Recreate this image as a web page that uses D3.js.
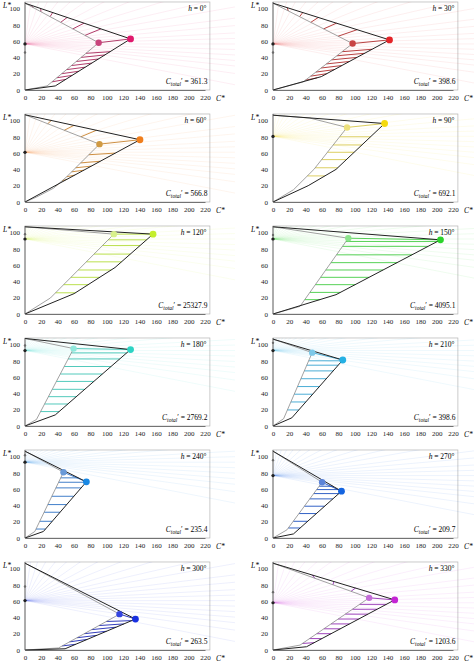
<!DOCTYPE html>
<html>
<head>
<meta charset="utf-8">
<script src="https://cdn.jsdelivr.net/npm/d3@7"></script>
<style>
  body { margin: 0; background: #fff; }
  svg text { font-family: "Liberation Serif", "DejaVu Serif", serif; }
</style>
</head>
<body>
<svg id="chart" width="474" height="662"></svg>
<script>
// hue angle of each panel and the value written in it
var hues = [0, 30, 60, 90, 120, 150, 180, 210, 240, 270, 300, 330];
var costs = ["361.3", "398.6", "566.8", "692.1", "25327.9", "4095.1", "2769.2", "398.6", "235.4", "209.7", "263.5", "1203.6"];

// gamut boundaries [C*, L*]  (upper: white point -> cusp, lower: black point -> cusp)
var outerUpper = [
  [[0,106.5],[129,62.7]],
  [[0,106.5],[142.4,61.5]],
  [[0,107],[140.5,76.4]],
  [[0,106.5],[136.4,96.3]],
  [[0,107],[156.5,98]],
  [[0,107],[204.7,91]],
  [[0,107.4],[129,93.8]],
  [[0,106.6],[85.3,81]],
  [[0,106.5],[75,68.9]],
  [[0,106.5],[83.7,57.4]],
  [[0,106.5],[135,38]],
  [[0,106.5],[148.8,61.5]]
];
var outerLower = [
  [[0,0],[37,5],[129,62.7]],
  [[0,0],[59,16.4],[142.4,61.5]],
  [[0,0],[70,38],[140.5,76.4]],
  [[0,0],[43,20],[77,40],[136.4,96.3]],
  [[0,0],[60,25],[110,57],[156.5,98]],
  [[0,0],[77,23.7],[204.7,91]],
  [[0,0],[37,13.6],[129,93.8]],
  [[0,0],[23,10],[85.3,81]],
  [[0,0],[22.5,8],[75,68.9]],
  [[0,0],[25,5],[83.7,57.4]],
  [[0,0],[49,1.5],[135,38]],
  [[0,0],[41,4],[148.8,61.5]]
];
var innerUpper = [
  [[0,106.5],[90,58]],
  [[0,106.5],[97.3,57]],
  [[0,107],[91,71]],
  [[0,106.5],[45,103],[90.5,91.5]],
  [[0,107],[108.6,98]],
  [[0,107],[92,93]],
  [[0,107.4],[59.4,95]],
  [[0,106.6],[47.9,90]],
  [[0,106.5],[47,80.7]],
  [[0,106.5],[60,68.4]],
  [[0,106.5],[115.5,44]],
  [[0,106.5],[117.5,64]]
];
var innerLower = [
  [[0,0],[27,5],[90,58]],
  [[0,0],[37,10],[97.3,57]],
  [[0,0],[14,6],[35,17],[51,31],[91,71]],
  [[0,0],[25,15],[50,40],[90.5,91.5]],
  [[0,0],[31,19.6],[108.6,98]],
  [[0,0],[33,9.4],[92,93]],
  [[0,0],[14,8],[59.4,95]],
  [[0,0],[13,9],[47.9,90]],
  [[0,0],[12,8],[47,80.7]],
  [[0,0],[17,10],[60,68.4]],
  [[0,0],[41,2.5],[115.5,44]],
  [[0,0],[33,6],[117.5,64]]
];

// mapping lines: [L* on inner boundary, L* on outer boundary]
var hatches = [
  [[10,13],[15,18],[20,23],[25,28],[30,33],[35,38],[40,43],[45,47],[58,62.7],[67,75],[75,82],[83,89],[90,95],[96,100],[101,104]],
  [[12,15],[17,20],[22,25],[27,30],[32,35],[37,40],[42,45],[47,50],[57,61.5],[66,74],[75,82],[83,89],[90,95],[97,101]],
  [[20,22],[26,28],[31,33],[37,39],[42,44],[48,50],[58,60],[71,76.4],[80,88],[88,94],[96,100]],
  [[32,32],[42,42],[52,52],[61,61],[70,70],[80,80],[91.5,96.3]],
  [[26,26],[36,36],[45,45],[54,54],[64,64],[73.5,73.5],[84,84],[91,91],[98,98]],
  [[17.6,17.6],[26.5,26.5],[36,36],[45,45],[54,54],[63,63],[72.6,72.6],[83,83],[89,89],[93,91]],
  [[17.7,17.7],[27,27],[36,36],[45,45],[54.7,54.7],[63.8,63.8],[73,73],[82.3,82.3],[89.7,89.7],[95,93.8]],
  [[19.7,19.7],[29.5,29.5],[39,39],[48.4,48.4],[58,58],[67.6,67.6],[74.6,74.6],[80,80],[90,81]],
  [[11,11],[20.5,20.5],[31.6,31.6],[41,41],[51.2,51.2],[61.5,61.5],[68.4,68.4],[73.8,73.8],[80.7,68.9]],
  [[12.3,12.3],[20.5,20.5],[30,30],[39,39],[48,48],[54.5,54.5],[59.4,59.4],[63.5,63.5],[68.4,57.4]],
  [[5,7],[10,13],[15,18],[20,23],[25,28],[30,32],[35,36],[44,38]],
  [[8,9],[14,14],[20,20],[26,26],[32,32],[38,38],[44,44],[50,50],[56,56],[64,61.5],[72,76],[80,84],[88,92]]
];

// points marked on the L* axis
var focalL = [56.5, 56.5, 61, 80.5, 92, 92, 92.6, 92.6, 93, 76.6, 60.6, 58];
var secondL = [46, 46, null, null, 98, 97, 98.8, 102, 101.6, 95.5, 78, 71];

// fan of guide lines through the focal point, angles in degrees
var fanAngles = [-11, -8, -6, -4.5, -3, -1.5, 0, 1.5, 3, 5, 7, 10, 13, 17, 22, 28, 35, 43, 52, 62, 72, 82];

var outerColors = ["#e0186c", "#e42428", "#f07e1c", "#f4da10", "#c4ee2c", "#2cd42c", "#2cd4c4", "#24b0e4", "#1888e4", "#1464e0", "#1830e0", "#c424d4"];
var innerColors = ["#c8447c", "#c84444", "#d09a44", "#ece07c", "#d8f08c", "#8ce48c", "#90e8dc", "#7cc8e8", "#6a9ad8", "#5c84d8", "#3444e0", "#c46cd8"];
var hatchColors = ["#a8285a", "#b02c2c", "#c8822c", "#d8c850", "#b4dc3c", "#44cc44", "#40c4b4", "#38a4d0", "#2c70c4", "#1c50c0", "#1c28b4", "#9430b4"];

var xTicks = [0, 20, 40, 60, 80, 100, 120, 140, 160, 180, 200, 220];
var yTicks = [0, 20, 40, 60, 80, 100];

var svg = d3.select("#chart");

hues.forEach(function(h, i) {
  var col = i % 2, row = Math.floor(i / 2);
  var x0 = col == 0 ? 25 : 273;
  var yb = 90 + row * 112;
  var x = d3.scaleLinear().domain([0, 220]).range([x0, x0 + 180]);
  var y = d3.scaleLinear().domain([0, 100]).range([yb, yb - 81.5]);
  var g = svg.append("g");

  // clip for the guide fan
  var clipId = "clip" + i;
  g.append("clipPath").attr("id", clipId).append("rect")
    .attr("x", x(0)).attr("y", y(108))
    .attr("width", col == 0 ? 210 : 205).attr("height", y(0) - y(108));

  // frame
  g.append("rect").attr("x", x(0)).attr("y", y(108))
    .attr("width", x(226) - x(0)).attr("height", y(0) - y(108))
    .attr("fill", "none").attr("stroke", "#b4b4b4").attr("stroke-width", 0.7);

  // fan of guide lines
  var fan = g.append("g").attr("clip-path", "url(#" + clipId + ")");
  fanAngles.forEach(function(a) {
    var r = a * Math.PI / 180;
    fan.append("line")
      .attr("x1", x(0)).attr("y1", y(focalL[i]))
      .attr("x2", x(0) + 400 * Math.cos(r)).attr("y2", y(focalL[i]) - 400 * Math.sin(r))
      .attr("stroke", outerColors[i]).attr("stroke-opacity", 0.13).attr("stroke-width", 0.6);
  });

  // right edge of each gamut as a function of L*
  function edge(upper, lower) {
    var up = d3.scaleLinear().domain(upper.map(function(p) { return p[1]; })).range(upper.map(function(p) { return p[0]; }));
    var lo = d3.scaleLinear().domain(lower.map(function(p) { return p[1]; })).range(lower.map(function(p) { return p[0]; }));
    var cuspL = lower[lower.length - 1][1];
    return function(L) { return L > cuspL ? up(L) : lo(L); };
  }
  var outC = edge(outerUpper[i], outerLower[i]);
  var inC = edge(innerUpper[i], innerLower[i]);

  // mapping lines between the two gamuts
  hatches[i].forEach(function(hh) {
    g.append("line")
      .attr("x1", x(inC(hh[0]))).attr("y1", y(hh[0]))
      .attr("x2", x(outC(hh[1]))).attr("y2", y(hh[1]))
      .attr("stroke", hatchColors[i]).attr("stroke-width", 0.9);
  });

  var line = d3.line().x(function(d) { return x(d[0]); }).y(function(d) { return y(d[1]); });
  // inner gamut
  g.append("path").attr("d", line(innerUpper[i])).attr("fill", "none").attr("stroke", "#8a8a8a").attr("stroke-width", 0.8);
  g.append("path").attr("d", line(innerLower[i])).attr("fill", "none").attr("stroke", "#8a8a8a").attr("stroke-width", 0.8);
  // outer gamut
  g.append("path").attr("d", line(outerUpper[i])).attr("fill", "none").attr("stroke", "#222").attr("stroke-width", 1);
  g.append("path").attr("d", line(outerLower[i])).attr("fill", "none").attr("stroke", "#222").attr("stroke-width", 1);

  // cusps
  var ic = innerLower[i][innerLower[i].length - 1];
  var oc = outerLower[i][outerLower[i].length - 1];
  g.append("circle").attr("cx", x(ic[0])).attr("cy", y(ic[1])).attr("r", 3.2).attr("fill", innerColors[i]);
  g.append("circle").attr("cx", x(oc[0])).attr("cy", y(oc[1])).attr("r", 3.4).attr("fill", outerColors[i]);

  // points on L* axis
  if (secondL[i] != null) {
    g.append("circle").attr("cx", x(0)).attr("cy", y(secondL[i])).attr("r", 1.2).attr("fill", "#777");
  }
  g.append("circle").attr("cx", x(0)).attr("cy", y(focalL[i])).attr("r", 1.6).attr("fill", "#000");

  // axes
  g.append("g").attr("transform", "translate(0," + y(0) + ")")
    .call(d3.axisBottom(x).tickValues(xTicks).tickSize(0).tickPadding(5))
    .call(function(a) { a.select(".domain").attr("stroke", "#555").attr("stroke-width", 0.8); })
    .selectAll("text").attr("font-size", 7).attr("fill", "#222")
    .style("font-family", "Liberation Serif");
  g.append("g").attr("transform", "translate(" + x(0) + ",0)")
    .call(d3.axisLeft(y).tickValues(yTicks).tickSize(0).tickPadding(5))
    .call(function(a) { a.select(".domain").attr("d", "M0," + y(0) + "V" + y(108)).attr("stroke", "#555").attr("stroke-width", 0.8); })
    .selectAll("text").attr("font-size", 7).attr("fill", "#222")
    .style("font-family", "Liberation Serif");

  g.append("text").attr("x", x(0) - 22).attr("y", y(108) + 6).attr("font-size", 7.5).attr("font-style", "italic").text("L*");
  g.append("text").attr("x", x(226) + 6).attr("y", y(0) + 11).attr("font-size", 7.5).attr("font-style", "italic").text("C*");

  var hl = g.append("text").attr("x", x(222)).attr("y", y(97)).attr("text-anchor", "end").attr("font-size", 7.5);
  hl.append("tspan").attr("font-style", "italic").text("h");
  hl.append("tspan").text(" = " + h + "°");

  var ct = g.append("text").attr("x", x(223)).attr("y", y(7)).attr("text-anchor", "end").attr("font-size", 7.5);
  ct.append("tspan").attr("font-style", "italic").text("C");
  ct.append("tspan").attr("font-size", 5.5).attr("dy", 1.5).attr("font-style", "italic").text("total");
  ct.append("tspan").attr("dy", -1.5).text("′ = " + costs[i]);
});
</script>
</body>
</html>
